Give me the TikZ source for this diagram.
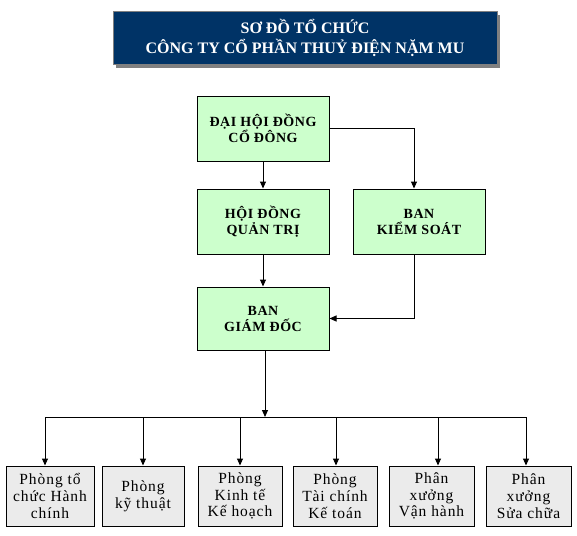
\documentclass[tikz,border=0pt]{standalone}
\usepackage{fontspec}
\setmainfont{Liberation Serif}
\newfontfamily\deptfont[LetterSpace=6]{Liberation Serif}
\newfontfamily\greenfont[LetterSpace=4]{Liberation Serif}
\usetikzlibrary{arrows.meta}
\definecolor{navy}{HTML}{003366}
\definecolor{boxgreen}{HTML}{CCFFCC}
\definecolor{boxgray}{HTML}{EBEBEB}
\definecolor{shadowgray}{HTML}{808080}
\begin{document}
\begin{tikzpicture}[x=1pt,y=-1pt,
  titlebox/.style={draw=shadowgray,line width=1pt,fill=navy,text=white,inner sep=0pt,
    minimum width=384pt,minimum height=52pt,align=center,
    font=\fontsize{16}{20}\selectfont\bfseries},
  greenbox/.style={draw=black,line width=1pt,fill=boxgreen,inner sep=0pt,
    minimum width=132pt,minimum height=65pt,align=center,
    font=\greenfont\fontsize{14}{16}\selectfont\bfseries},
  deptbox/.style={draw=black,line width=1pt,fill=boxgray,inner sep=0pt,
    minimum height=60pt,align=center,
    font=\deptfont\fontsize{15.5}{16.7}\selectfont},
  link/.style={draw=black,line width=1pt},
  arr/.style={link,-{Triangle[length=7pt,width=6pt]}}
]
\useasboundingbox (0,0) rectangle (577,535);
\fill[white] (0,0) rectangle (577,535);
% title with shadow
\fill[shadowgray] (116,15) rectangle (500,67.5);
\node[titlebox] (title) at (305,38) {SƠ ĐỒ TỔ CHỨC\\CÔNG TY CỔ PHẦN THUỶ ĐIỆN NẶM MU};
% management boxes
\node[greenbox] (dhdcd) at (263,128.5) {ĐẠI HỘI ĐỒNG\\CỔ ĐÔNG};
\node[greenbox] (hdqt) at (263,221.5) {HỘI ĐỒNG\\QUẢN TRỊ};
\node[greenbox] (bks) at (419,221.5) {BAN\\KIỂM SOÁT};
\node[greenbox,minimum height=63pt] (bgd) at (263,318.5) {BAN\\GIÁM ĐỐC};
% departments
\node[deptbox,minimum width=88pt] (d1) at (50,496) {Phòng tổ\\chức Hành\\chính};
\node[deptbox,minimum width=82pt] (d2) at (143,496) {Phòng\\kỹ thuật};
\node[deptbox,minimum width=84pt] (d3) at (240,496) {Phòng\\Kinh tế\\Kế hoạch};
\node[deptbox,minimum width=84pt] (d4) at (335,496) {Phòng\\Tài chính\\Kế toán};
\node[deptbox,minimum width=85pt] (d5) at (431.5,496) {Phân\\xưởng\\Vận hành};
\node[deptbox,minimum width=85pt] (d6) at (528.5,496) {Phân\\xưởng\\Sửa chữa};
% bus coordinates
\coordinate (busc) at (265,417);
\coordinate (b1) at (45,417);
\coordinate (b2) at (143,417);
\coordinate (b3) at (240,417);
\coordinate (b4) at (336,417);
\coordinate (b5) at (438,417);
\coordinate (b6) at (526,417);
\coordinate (ksx) at (414,0);
% connectors
\draw[arr] (dhdcd.south) -- (hdqt.north);
\draw[arr] (hdqt.south) -- (bgd.north);
\draw[arr] (dhdcd.east) -- (dhdcd.east -| ksx) -- (ksx |- bks.north);
\draw[arr] (ksx |- bks.south) -- (ksx |- bgd.east) -- (bgd.east);
\draw[link] (b1) -- (b6);
\draw[arr] (bgd.south -| busc) -- (busc);
\draw[arr] (b1) -- (b1 |- d1.north);
\draw[arr] (b2) -- (b2 |- d2.north);
\draw[arr] (b3) -- (b3 |- d3.north);
\draw[arr] (b4) -- (b4 |- d4.north);
\draw[arr] (b5) -- (b5 |- d5.north);
\draw[arr] (b6) -- (b6 |- d6.north);
\end{tikzpicture}
\end{document}
